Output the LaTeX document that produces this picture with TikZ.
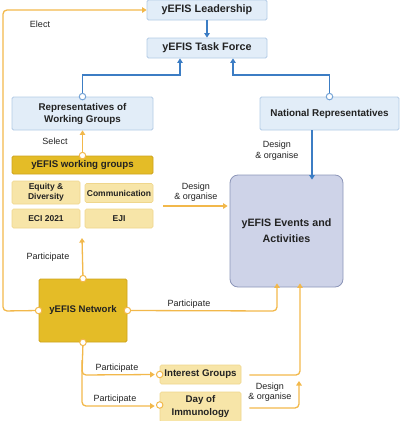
\documentclass[tikz,border=0pt]{standalone}
\usepackage{fontspec}
\setmainfont{Liberation Sans}
\usetikzlibrary{arrows.meta,calc}
\definecolor{bfill}{HTML}{E2EDF8}
\definecolor{bdraw}{HTML}{B3CBE6}
\definecolor{bline}{HTML}{3C7DC4}
\definecolor{oline}{HTML}{F2B84B}
\definecolor{dyfill}{HTML}{E4BC27}
\definecolor{dydraw}{HTML}{CFA31D}
\definecolor{lyfill}{HTML}{F7E5A8}
\definecolor{lydraw}{HTML}{EFD68C}
\definecolor{evfill}{HTML}{CED3E8}
\definecolor{evdraw}{HTML}{8C95B8}
\definecolor{txt}{HTML}{222222}
\tikzset{
  bluebox/.style={draw=bdraw,fill=bfill,line width=0.8pt,rounded corners=1.5pt,align=center,font=\bfseries\fontsize{10.8}{12}\selectfont,text=txt,inner sep=0pt},
  darkbox/.style={draw=dydraw,fill=dyfill,line width=0.8pt,rounded corners=1.5pt,align=center,font=\bfseries\fontsize{9.7}{11}\selectfont,text=txt,inner sep=0pt},
  lightbox/.style={draw=lydraw,fill=lyfill,line width=0.6pt,rounded corners=1.5pt,align=center,font=\bfseries\fontsize{8.5}{10}\selectfont,text=txt,inner sep=0pt},
  lbl/.style={font=\fontsize{9}{10.5}\selectfont,text=txt,align=center,inner sep=0pt},
  barr/.style={draw=bline,line width=1.3pt,-{Triangle[length=4.5pt,width=5.5pt]}},
  oarr/.style={draw=oline,line width=1.3pt,rounded corners=4pt,-{Triangle[length=4.5pt,width=5.5pt]}},
  odot/.style={circle,draw=oline,fill=white,line width=1pt,minimum size=6.5pt,inner sep=0pt},
  bdot/.style={circle,draw=bline!70!white,fill=white,line width=1pt,minimum size=6.5pt,inner sep=0pt},
}
\begin{document}
\begin{tikzpicture}[x=1pt,y=-1pt]
\useasboundingbox (0,0) rectangle (400,421);
% boxes
\node[bluebox,minimum width=120pt,minimum height=20pt] (lead) at (207,10) {yEFIS Leadership};
\node[bluebox,minimum width=120pt,minimum height=20pt] (tf) at (207,48) {yEFIS Task Force};
\node[bluebox,minimum width=141pt,minimum height=33pt,font=\bfseries\fontsize{9.8}{12}\selectfont] (rep) at (82.5,113.5) {Representatives of\\Working Groups};
\node[bluebox,minimum width=139pt,minimum height=33pt,font=\bfseries\fontsize{9.9}{12}\selectfont] (nat) at (329.5,113.5) {National Representatives};
\node[darkbox,minimum width=141pt,minimum height=18pt] (wg) at (82.5,165) {yEFIS working groups};
\node[lightbox,minimum width=68pt,minimum height=23pt] (eq) at (46,192.5) {Equity \&\\Diversity};
\node[lightbox,minimum width=68pt,minimum height=19pt] (com) at (119,193) {Communication};
\node[lightbox,minimum width=68pt,minimum height=19pt] (eci) at (46,218.5) {ECI 2021};
\node[lightbox,minimum width=68pt,minimum height=19pt] (eji) at (119,218.5) {EJI};
\node[draw=evdraw,fill=evfill,line width=0.8pt,rounded corners=8pt,minimum width=113pt,minimum height=112pt,align=center,font=\bfseries\fontsize{10.7}{16}\selectfont,text=txt] (ev) at (286.5,231) {yEFIS Events and\\Activities};
\node[darkbox,minimum width=88pt,minimum height=63pt,font=\bfseries\fontsize{9.6}{11}\selectfont] (net) at (83,310.5) {yEFIS Network};
\node[lightbox,minimum width=81pt,minimum height=19pt,font=\bfseries\fontsize{9.7}{11}\selectfont] (ig) at (200.5,374.5) {Interest Groups};
\node[lightbox,minimum width=81pt,minimum height=30pt,font=\bfseries\fontsize{9.7}{13}\selectfont] (day) at (200.5,407) {Day of\\Immunology};
% coordinates
\coordinate (grpbot) at (82,238);
\coordinate (grpright) at (163,206);
\coordinate (dayend) at (299,381);
% blue connectors
\draw[barr] (lead.south) -- (tf.north);
\draw[barr] (rep.north) -- (rep.north |- 0,75) -| ([xshift=-27pt]tf.south);
\draw[barr] (nat.north) -- (nat.north |- 0,75) -| ([xshift=26pt]tf.south);
\draw[barr] (nat.south -| 312,0) -- ([yshift=-5pt]ev.north -| 312,0);
\node[bdot] (d1) at (rep.north) {};
\node[bdot] (d2) at (nat.north) {};
% orange connectors
\draw[oarr] (wg.north) -- (rep.south);
\draw[oarr] (net.north) -- (grpbot);
\draw[oarr] (grpright) -- ([xshift=-2pt]ev.west |- grpright);
\draw[oarr] (net.west) -- (3,311) -- (3,10) -- (lead.west);
\draw[oarr] (net.east) -- (277,311) -- ([yshift=4pt]ev.south -| 277,0);
\draw[oarr] (net.south) -- (82,375) -- ([xshift=-5pt]ig.west);
\draw[oarr] (82,360) -- (82,406) -- ([xshift=-5pt]day.west |- 0,406);
\draw[oarr] (ig.east |- 0,375) ++(8,0) -- (300,375) -- ([yshift=4pt]ev.south -| 300,0);
\draw[oarr] (day.east |- 0,408) ++(8,0) -- (299,408) -- (dayend);
\node[odot] at (wg.north) {};
\node[odot] at (net.north) {};
\node[odot] at (net.west) {};
\node[odot] at (net.east) {};
\node[odot] at (net.south) {};
\node[odot] at (ig.west) {};
\node[odot] at (day.west |- 0,405) {};
% labels
\node[lbl] (lelect) at (40,24) {Elect};
\node[lbl] (lsel) at (55,141) {Select};
\node[lbl] (ldo1) at (196,192) {Design\\\& organise};
\node[lbl] (ldo2) at (277,150.5) {Design\\\& organise};
\node[lbl] (lpart1) at (48,257) {Participate};
\node[lbl] (lpart2) at (189,304) {Participate};
\node[lbl] (lpart3) at (117,368) {Participate};
\node[lbl] (lpart4) at (115,399) {Participate};
\node[lbl] (ldo3) at (270,392) {Design\\\& organise};
\end{tikzpicture}
\end{document}
